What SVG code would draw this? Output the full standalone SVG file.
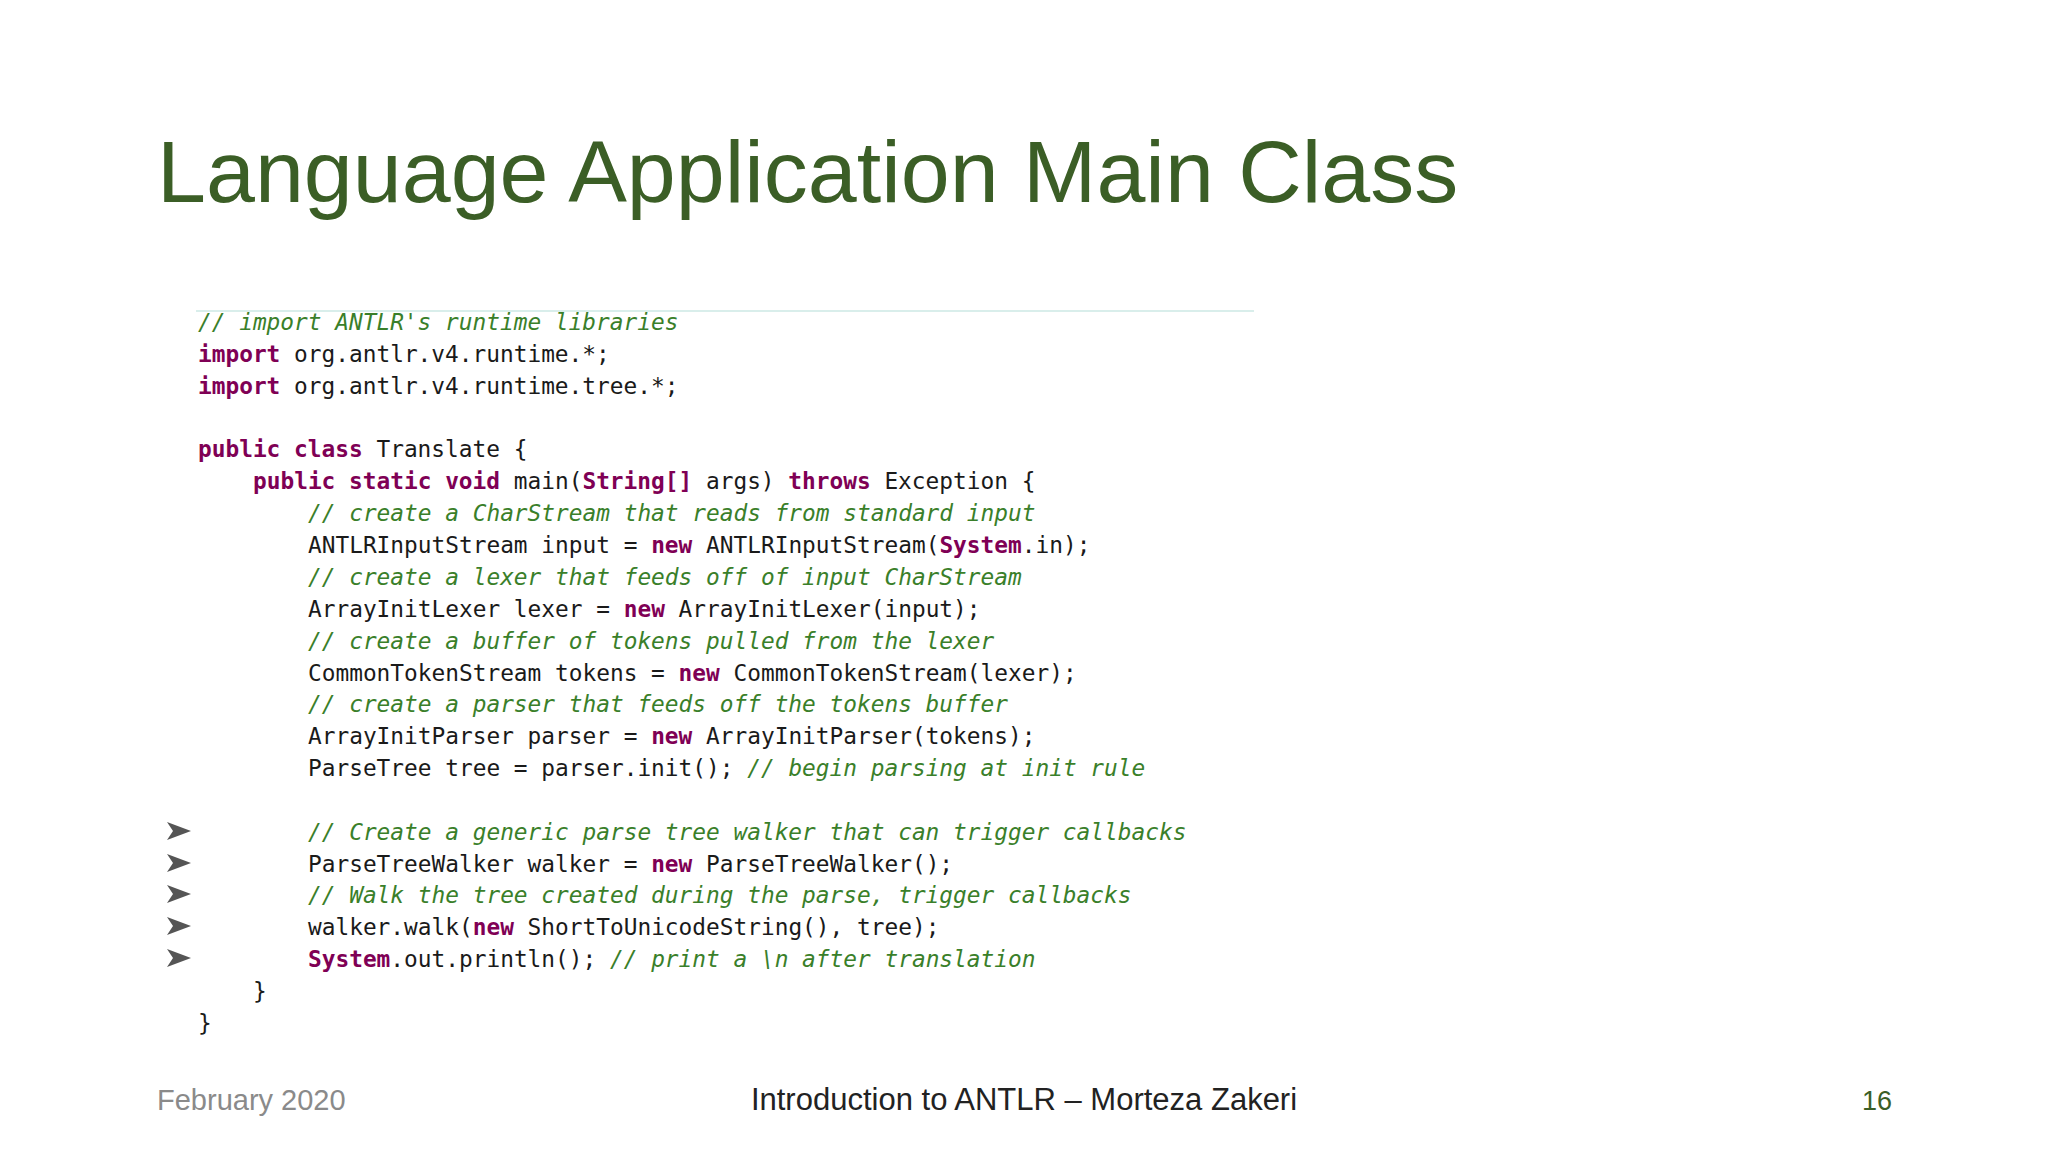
<svg xmlns="http://www.w3.org/2000/svg" width="2048" height="1152" viewBox="0 0 2048 1152">
<style>
.t{font-family:"Liberation Sans",Arial,sans-serif}
.c{font-family:"DejaVu Sans Mono",monospace;font-size:22.8px;fill:#1a1a1a;white-space:pre}
.k{fill:#7f0055;font-weight:bold}
.m{fill:#3a7f2a;font-style:italic}
.b{fill:#555}
</style>
<rect width="2048" height="1152" fill="#fff"/>
<text class="t" x="157" y="202" font-size="88" fill="#3b5e26">Language Application Main Class</text>
<line x1="196" y1="311" x2="1254" y2="311" stroke="#cde8e4" stroke-width="1.5"/>
<g id="code">
<text class="c" x="198" y="330"><tspan class="m">// import ANTLR's runtime libraries</tspan></text>
<text class="c" x="198" y="362"><tspan class="k">import</tspan> org.antlr.v4.runtime.*;</text>
<text class="c" x="198" y="394"><tspan class="k">import</tspan> org.antlr.v4.runtime.tree.*;</text>
<text class="c" x="198" y="457"><tspan class="k">public class</tspan> Translate {</text>
<text class="c" x="253" y="489"><tspan class="k">public static void</tspan> main(<tspan class="k">String[]</tspan> args) <tspan class="k">throws</tspan> Exception {</text>
<text class="c" x="308" y="521"><tspan class="m">// create a CharStream that reads from standard input</tspan></text>
<text class="c" x="308" y="553">ANTLRInputStream input = <tspan class="k">new</tspan> ANTLRInputStream(<tspan class="k">System</tspan>.in);</text>
<text class="c" x="308" y="585"><tspan class="m">// create a lexer that feeds off of input CharStream</tspan></text>
<text class="c" x="308" y="617">ArrayInitLexer lexer = <tspan class="k">new</tspan> ArrayInitLexer(input);</text>
<text class="c" x="308" y="649"><tspan class="m">// create a buffer of tokens pulled from the lexer</tspan></text>
<text class="c" x="308" y="681">CommonTokenStream tokens = <tspan class="k">new</tspan> CommonTokenStream(lexer);</text>
<text class="c" x="308" y="712"><tspan class="m">// create a parser that feeds off the tokens buffer</tspan></text>
<text class="c" x="308" y="744">ArrayInitParser parser = <tspan class="k">new</tspan> ArrayInitParser(tokens);</text>
<text class="c" x="308" y="776">ParseTree tree = parser.init(); <tspan class="m">// begin parsing at init rule</tspan></text>
<text class="c" x="308" y="840"><tspan class="m">// Create a generic parse tree walker that can trigger callbacks</tspan></text>
<text class="c" x="308" y="872">ParseTreeWalker walker = <tspan class="k">new</tspan> ParseTreeWalker();</text>
<text class="c" x="308" y="903"><tspan class="m">// Walk the tree created during the parse, trigger callbacks</tspan></text>
<text class="c" x="308" y="935">walker.walk(<tspan class="k">new</tspan> ShortToUnicodeString(), tree);</text>
<text class="c" x="308" y="967"><tspan class="k">System</tspan>.out.println(); <tspan class="m">// print a \n after translation</tspan></text>
<text class="c" x="253" y="999">}</text>
<text class="c" x="198" y="1031">}</text>
</g>
<g id="bullets" fill="#555">
<path id="ar" d="M167,822 L191,831 L167,840 L173,831 Z"/>
<use href="#ar" y="32"/>
<use href="#ar" y="63"/>
<use href="#ar" y="95"/>
<use href="#ar" y="127"/>
</g>
<text class="t" x="157" y="1110" font-size="29" fill="#8a8a8a">February 2020</text>
<text class="t" x="1024" y="1110" font-size="31" fill="#222" text-anchor="middle">Introduction to ANTLR – Morteza Zakeri</text>
<text class="t" x="1877" y="1110" font-size="27" fill="#3b5e26" text-anchor="middle">16</text>
</svg>
